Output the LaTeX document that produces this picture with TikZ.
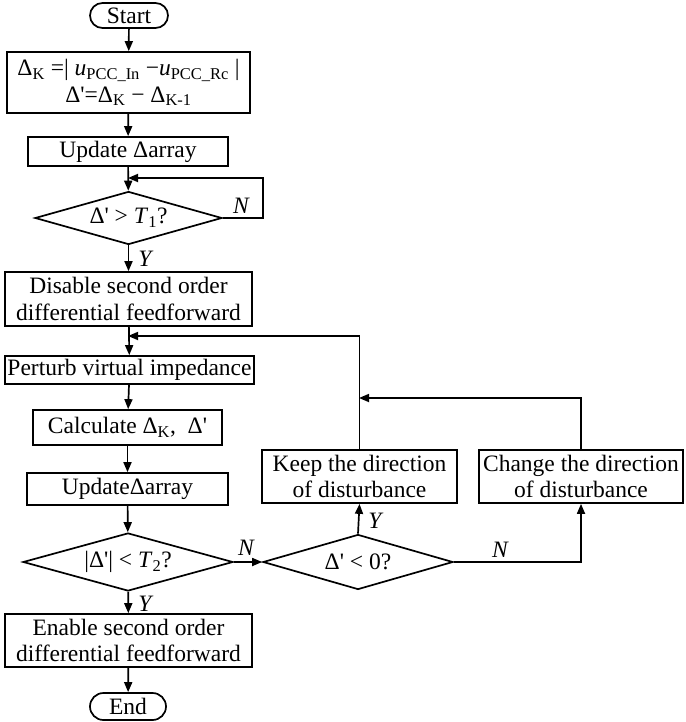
\documentclass[tikz,border=0pt]{standalone}
\usepackage{fontspec}
\setmainfont{Liberation Serif}
\usetikzlibrary{shapes.geometric,shapes.misc,arrows.meta}
\newcommand{\sbs}[1]{\textsubscript{#1}}
\newcommand{\pr}{\textquotesingle}
\begin{document}
\begin{tikzpicture}[x=1pt,y=-1pt,
  base/.style={draw, line width=1.7pt, inner sep=0pt, align=center, font=\fontsize{23.5}{26.5}\selectfont},
  box/.style={base, rectangle},
  term/.style={base, rounded rectangle},
  dec/.style={base, diamond},
  arr/.style={line width=1.7pt, -{Triangle[length=10pt,width=8pt]}},
  lab/.style={font=\fontsize{23.5}{26.5}\selectfont\itshape, inner sep=0pt}]
\useasboundingbox (0,0) rectangle (685,722);

\node[term, minimum width=78pt, minimum height=25pt] (start) at (129,15.5) {Start};
\node[box, minimum width=243pt, minimum height=61pt] (b1) at (128.5,82.5)
  {Δ\sbs{K} =| \textit{u}\sbs{PCC\_In} −\textit{u}\sbs{PCC\_Rc} |\\ Δ\pr=Δ\sbs{K} − Δ\sbs{K-1}};
\node[box, minimum width=200pt, minimum height=29pt] (b2) at (128,151.5) {Update Δarray};
\node[dec, shape aspect=3.53, minimum width=187pt, minimum height=53pt] (d1) at (128.5,218) {Δ\pr\ > \textit{T}\sbs{1}?};
\node[box, minimum width=247pt, minimum height=54pt] (b3) at (128.5,299) {Disable second order\\differential feedforward};
\node[box, minimum width=249pt, minimum height=28pt] (b4) at (129.5,370) {Perturb virtual impedance};
\node[box, minimum width=189pt, minimum height=35pt] (b5) at (127.5,427.5) {Calculate Δ\sbs{K}, \ Δ\pr};
\node[box, minimum width=201pt, minimum height=32pt] (b6) at (127.5,489) {UpdateΔarray};
\node[dec, shape aspect=3.62, minimum width=210pt, minimum height=58pt] (d2) at (128,562) {|Δ\pr| < \textit{T}\sbs{2}?};
\node[box, minimum width=247pt, minimum height=53pt] (b7) at (128.5,640.5) {Enable second order\\differential feedforward};
\node[term, minimum width=76pt, minimum height=27pt] (end) at (128,706.5) {End};
\node[dec, shape aspect=3.45, minimum width=190pt, minimum height=55pt] (d3) at (358,562) {Δ\pr\ < 0?};
\node[box, minimum width=195pt, minimum height=53pt] (keep) at (359.5,476.5) {Keep the direction\\of disturbance};
\node[box, minimum width=204pt, minimum height=53pt] (change) at (581,476.5) {Change the direction\\of disturbance};

\coordinate (l1) at (128,178);
\coordinate (r1) at (263,178);
\coordinate (f1) at (128,336);
\coordinate (f2) at (359,398);

\draw[arr] (start) -- (b1);
\draw[arr] (b1) -- (b2);
\draw[arr] (b2) -- (d1);
\draw[arr] (d1.east) -| (r1) -- (l1);
\draw[arr] (d1) -- (b3);
\draw[arr] (b3) -- (b4);
\draw[arr] (b4) -- (b5);
\draw[arr] (b5) -- (b6);
\draw[arr] (b6) -- (d2);
\draw[arr] (d2) -- (b7);
\draw[arr] (b7) -- (end);
\draw[arr] (d2.east) -- (d3.west);
\draw[arr] (d3.north) -- (keep.south);
\draw[arr] (d3.east) -| (change.south);
\draw[arr] (keep.north) |- (f1);
\draw[arr] (change.north) |- (f2);

\node[lab] (n1) at (241,206) {N};
\node[lab] (y1) at (145,259) {Y};
\node[lab] (n2) at (246,548) {N};
\node[lab] (y2) at (375,521) {Y};
\node[lab] (n3) at (500,550) {N};
\node[lab] (y3) at (145,604) {Y};
\end{tikzpicture}
\end{document}
